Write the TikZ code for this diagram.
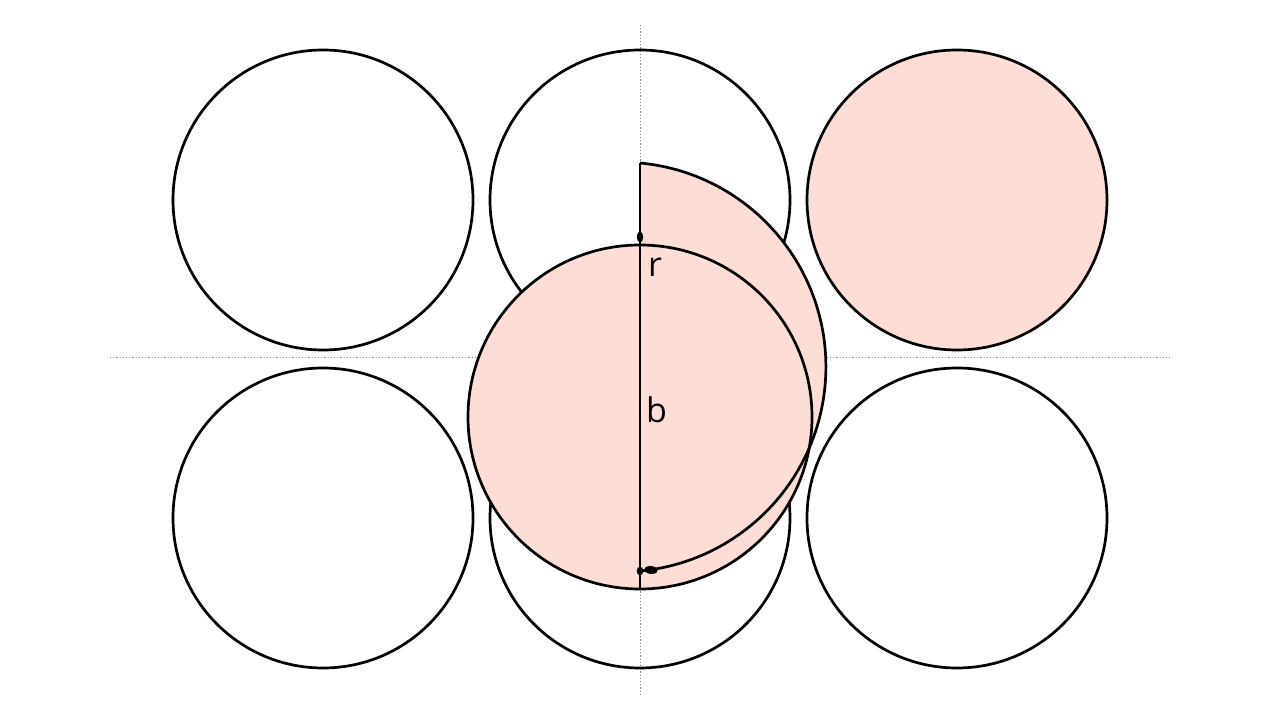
\documentclass[tikz,border=0pt]{standalone}
\usepackage{fontspec}
\setmainfont{Open Sans}
\definecolor{pinkfill}{RGB}{253,222,214}
\definecolor{dotgray}{RGB}{135,135,135}
\begin{document}
\begin{tikzpicture}[x=1pt,y=1pt,
  ring/.style={circle,draw=black,line width=2.7pt,minimum size=300pt,inner sep=0pt,outer sep=0pt},
  guide/.style={draw=dotgray,line width=1pt,dash pattern=on 1.2pt off 2pt},
  outline/.style={draw=black,line width=2.7pt},
  lbl/.style={font=\fontsize{34}{36}\selectfont,inner sep=0pt,anchor=base west}]
\useasboundingbox (0,0) rectangle (1280,720);
\fill[white] (0,0) rectangle (1280,720);
% guide lines
\coordinate (gvT) at (640,695);
\coordinate (gvB) at (640,25);
\coordinate (ghL) at (110,362);
\coordinate (ghR) at (1170,362);
\draw[guide] (gvT) -- (gvB);
\draw[guide] (ghL) -- (ghR);
% circles
\node[ring] (c11) at (323,520) {};
\node[ring] (c12) at (640,520) {};
\node[ring,fill=pinkfill] (c13) at (957,520) {};
\node[ring] (c21) at (323,202) {};
\node[ring] (c22) at (640,202) {};
\node[ring] (c23) at (957,202) {};
% sector fill
\coordinate (T) at (640,557);
\fill[pinkfill] (T) arc[start angle=84.68,end angle=-84.68,radius=204.9pt] -- cycle;
% pink circle
\node[ring,fill=pinkfill,minimum size=344pt] (pc) at (640,303) {};
% sector arc
\draw[outline] (T) arc[start angle=84.68,end angle=-84.68,radius=204.9pt] coordinate (E);
% vertical line
\draw[outline] (T) -- (pc.south);
% marks
\fill[black] (640,483) ellipse[x radius=3.2pt,y radius=5.5pt];
\fill[black] (640,149) ellipse[x radius=3.2pt,y radius=4.5pt];
\fill[black,rotate around={-6:(651,150)}] (651,150) ellipse[x radius=6.5pt,y radius=4pt];
% labels
\node[lbl] (r) at (648,443) {r};
\node[lbl] (b) at (646,297) {b};
\end{tikzpicture}
\end{document}
